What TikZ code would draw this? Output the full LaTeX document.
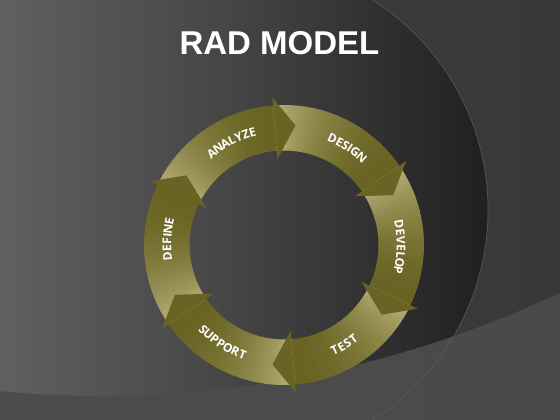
\documentclass[tikz,border=0pt]{standalone}
\usepackage{fontspec}
\usetikzlibrary{decorations.text}
\newfontfamily\titlefont{Liberation Sans}
\newfontfamily\lblfont{Open Sans}
\newcommand\lblf{\lblfont\bfseries\fontsize{12pt}{14pt}\selectfont}
\definecolor{olivedark}{RGB}{106,100,36}
\definecolor{olivelight}{RGB}{182,174,118}
\definecolor{oL}{RGB}{64,64,64}
\definecolor{oR}{RGB}{56,56,56}
\definecolor{cL}{RGB}{97,97,97}
\definecolor{cM}{RGB}{68,68,68}
\definecolor{cR}{RGB}{32,32,32}
\definecolor{edgec}{RGB}{82,82,82}
\definecolor{bandL}{RGB}{76,76,76}
\definecolor{bandR}{RGB}{74,74,74}
\definecolor{bandline}{RGB}{90,90,90}
\tikzset{
  headshape/.style={fill=olivedark},
  titlestyle/.style={font=\titlefont\bfseries\fontsize{33pt}{36pt}\selectfont, text=white, anchor=base, inner sep=0pt}
}
\begin{document}
\begin{tikzpicture}[x=1pt,y=1pt]
\useasboundingbox (0,0) rectangle (560,420);
\clip (0,0) rectangle (560,420);
% background: dark disc shading over the whole page
\shade[left color=cL, right color=cR, middle color=cM] (-10,-39) rectangle (488,459);
% region outside the big disc (right side)
\begin{scope}
  \clip (239,0) rectangle (560,420);
  \shade[even odd rule, left color=oL, right color=oR] (239,0) rectangle (560,420) (239,210) circle[radius=249pt];
\end{scope}
\draw[color=edgec, line width=0.8pt] (239,210) ++(-60:249pt) arc[start angle=-60, end angle=60, radius=249pt];
% lower band
\begin{scope}
  \clip (0,0) -- (0,28.6) arc[start angle=264.68, end angle=295.26, radius=1078pt] -- (560,0) -- cycle;
  \shade[left color=bandL, right color=bandR] (0,0) rectangle (560,130);
  \draw[color=bandline, line width=0.6pt] (239,210) ++(-60:249pt) arc[start angle=-60, end angle=0, radius=249pt];
\end{scope}
\draw[color=black!70, line width=0.6pt, opacity=0.5] (0,28.6) arc[start angle=264.68, end angle=295.26, radius=1078pt];
% ring
\begin{scope}[shift={(284,175)}]
  \foreach \T in {84.5,24.5,-35.5,-95.5,-155.5,144.5} {
    \foreach \i in {0,...,29} {
      \pgfmathsetmacro\a{\T+70-2*\i}
      \pgfmathsetmacro\b{\T+70-2*\i-2.4}
      \pgfmathsetmacro\q{1-\i/29}
      \pgfmathsetmacro\p{100*(1-\q*\q)}
      \fill[olivedark!\p!olivelight] (\a:140pt) arc[start angle=\a, end angle=\b, radius=140pt] -- (\b:94.5pt) arc[start angle=\b, end angle=\a, radius=94.5pt] -- cycle;
    }
  }
  \foreach \T in {84.5,24.5,-35.5,-95.5,-155.5,144.5} {
    \fill[headshape] (\T+10:148pt) -- (\T:120pt) -- (\T+10:86pt) -- cycle;
  }
  \foreach \L/\txt/\dir in {117/ANALYZE/1, 57/DESIGN/1, -1/DEVELOP/1, 177/DEFINE/1, -59/TEST/-1, -122/SUPPORT/-1} {
    \pgfmathsetmacro\s{\L+35*\dir}
    \pgfmathsetmacro\e{\L-35*\dir}
    \path[decorate, decoration={text effects along path, text/.expanded=\txt, text align=center,
      text effects/.cd, text along path, character widths={inner xsep=0.35pt},
      characters={text=white, font=\lblf, anchor=center}}]
      (\s:117pt) arc[start angle=\s, end angle=\e, radius=117pt];
  }
\end{scope}
% title
\node[titlestyle] (title) at (279.5,365) {RAD MODEL};
\end{tikzpicture}
\end{document}
